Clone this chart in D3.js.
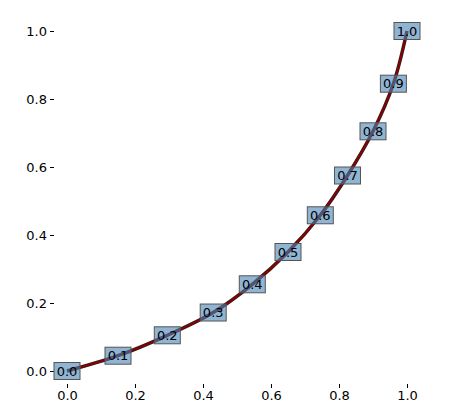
<!DOCTYPE html><html><head><script src="https://cdn.jsdelivr.net/npm/d3@7"></script>
<style>body{margin:0;background:#fff}text{font-family:"DejaVu Sans";}</style></head><body><svg id="c" width="474" height="409"></svg>
<script>
const labels=["0.0","0.1","0.2","0.3","0.4","0.5","0.6","0.7","0.8","0.9","1.0"];
const xs=[0,0.15,0.295,0.43,0.545,0.65,0.745,0.825,0.9,0.96,1.0];
const ys=[0,0.045,0.105,0.172,0.255,0.35,0.458,0.575,0.705,0.845,1.0];
const ticks=[0,0.2,0.4,0.6,0.8,1.0];
const svg=d3.select("#c");
const x=d3.scaleLinear().domain([0,1]).range([67,407]);
const y=d3.scaleLinear().domain([0,1]).range([371,31]);
const ax=svg.append("g").attr("transform","translate(0,384)").call(d3.axisBottom(x).tickValues(ticks).tickFormat(d3.format(".1f")).tickSize(4).tickPadding(3));
const ay=svg.append("g").attr("transform","translate(54,0)").call(d3.axisLeft(y).tickValues(ticks).tickFormat(d3.format(".1f")).tickSize(4).tickPadding(3));
[ax,ay].forEach(a=>{a.select(".domain").remove();a.selectAll("text").attr("font-size",13).attr("fill","#000").attr("font-family","DejaVu Sans");a.selectAll("line").attr("stroke","#000");});
const pts=xs.map((v,i)=>[x(v),y(ys[i])]);
const line=d3.line().curve(d3.curveCatmullRom);
svg.append("path").attr("d",line(pts)).attr("fill","none").attr("stroke","#222").attr("stroke-width",3.5);
svg.append("path").attr("d",line(pts)).attr("fill","none").attr("stroke","#8b0000").attr("stroke-width",2);
const g=svg.selectAll(".l").data(labels).enter().append("g").attr("transform",(d,i)=>`translate(${x(xs[i])},${y(ys[i])})`);
g.append("rect").attr("x",-13).attr("y",-8.5).attr("width",26).attr("height",17).attr("fill","rgba(70,130,180,0.6)").attr("stroke","#555").attr("stroke-width",1);
g.append("text").text(d=>d).attr("text-anchor","middle").attr("dy","0.35em").attr("font-size",13).attr("fill","#000");
</script></body></html>
